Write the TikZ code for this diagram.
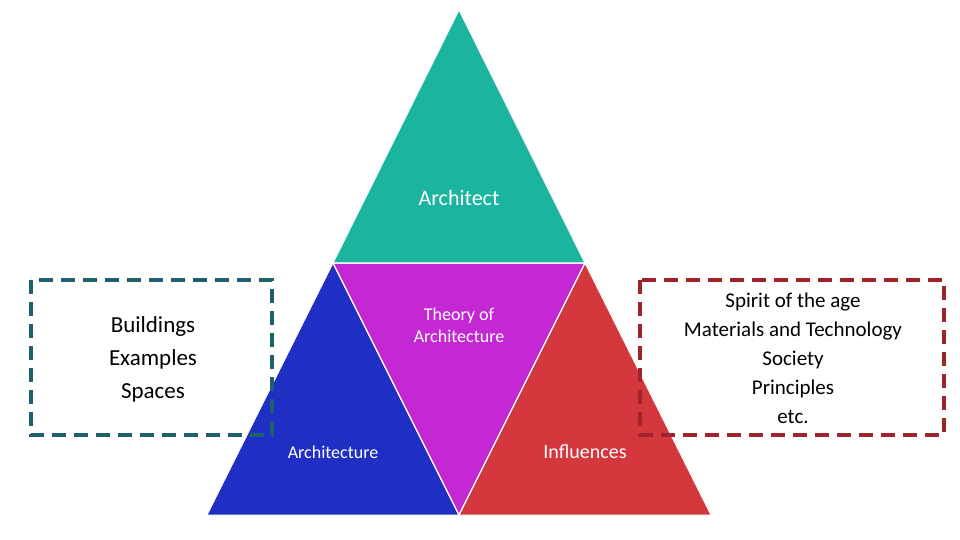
\documentclass[tikz,border=0pt]{standalone}
\usepackage{fontspec}
\setmainfont{Carlito}
\definecolor{tealc}{HTML}{1BB49F}
\definecolor{bluec}{HTML}{1F2FC4}
\definecolor{magc}{HTML}{C428D2}
\definecolor{redc}{HTML}{D4383C}
\definecolor{boxl}{HTML}{1F5F6E}
\definecolor{boxr}{HTML}{A0242C}
\begin{document}
\begin{tikzpicture}[x=1pt,y=-1pt,
  tri/.style={draw=white,line width=1pt,line join=miter},
  dbox/.style={line width=4pt,dash pattern=on 14pt off 8pt},
  wt/.style={text=white,align=center,inner sep=0pt}]
\useasboundingbox (0,0) rectangle (960,540);
\coordinate (A) at (459,10);
\coordinate (L) at (333,263);
\coordinate (R) at (585,263);
\coordinate (BL) at (207,515);
\coordinate (BM) at (459,515);
\coordinate (BR) at (711,515);
\fill[tri,fill=tealc] (A) -- (L) -- (R) -- cycle;
\fill[tri,fill=bluec] (L) -- (BL) -- (BM) -- cycle;
\fill[tri,fill=magc] (L) -- (R) -- (BM) -- cycle;
\fill[tri,fill=redc] (R) -- (BM) -- (BR) -- cycle;
\draw[white,line width=1pt] (L) -- (R) -- (BM) -- cycle;
\node[wt,font=\fontsize{22}{26}\selectfont] (t1) at (459,198) {Architect};
\node[wt,font=\fontsize{18}{22}\selectfont] (t2) at (459,325) {Theory of\\Architecture};
\node[wt,font=\fontsize{18}{22}\selectfont] (t3) at (333,452) {Architecture};
\node[wt,font=\fontsize{20}{24}\selectfont] (t4) at (585,452) {Influences};
\draw[dbox,boxl] (31,280) rectangle (272,435);
\draw[dbox,boxr] (640,280) rectangle (944,435);
\node[align=center,inner sep=0pt,font=\fontsize{23}{33}\selectfont] (lt) at (153,359) {Buildings\\Examples\\Spaces};
\node[align=center,inner sep=0pt,font=\fontsize{21}{29}\selectfont] (rt) at (793,358) {Spirit of the age\\Materials and Technology\\Society\\Principles\\etc.};
\end{tikzpicture}
\end{document}
